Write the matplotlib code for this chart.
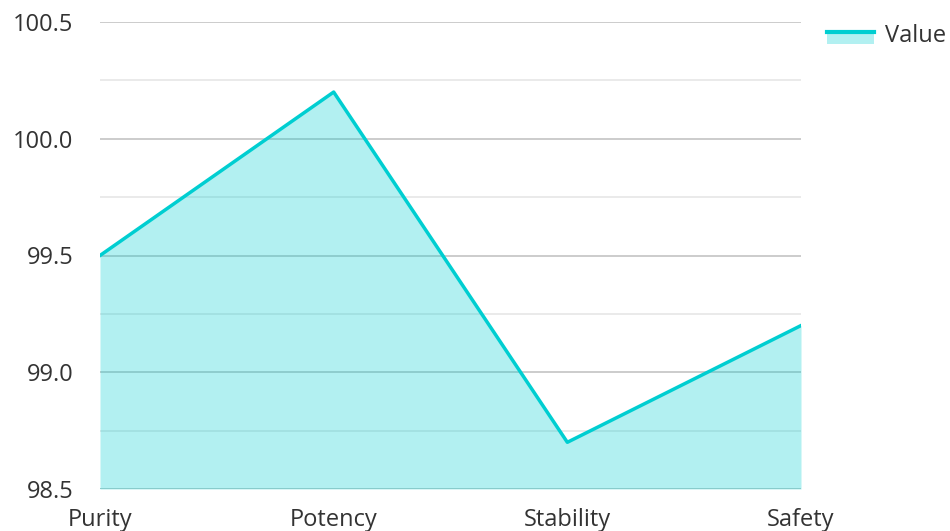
import matplotlib.pyplot as plt
from matplotlib.legend_handler import HandlerBase
from matplotlib.patches import Rectangle
from matplotlib.lines import Line2D

plt.rcParams['font.family'] = ['Open Sans', 'DejaVu Sans']

categories = ['Purity', 'Potency', 'Stability', 'Safety']
values = [99.5, 100.2, 98.7, 99.2]
yticks = [98.5, 99.0, 99.5, 100.0, 100.5]
minor_ticks = [98.75, 99.25, 99.75, 100.25]

line_color = '#00CED1'


class AreaHandler(HandlerBase):
    # filled box with the line along its top edge
    def create_artists(self, legend, orig, xd, yd, w, h, fontsize, trans):
        rect = Rectangle((xd, yd - 0.1 * h), w, 0.7 * h, facecolor=line_color,
                         alpha=0.3, edgecolor='none', transform=trans)
        ln = Line2D([xd, xd + w], [yd + 0.6 * h, yd + 0.6 * h], color=line_color,
                    linewidth=3, transform=trans)
        return [rect, ln]


fig = plt.figure(figsize=(9.5, 5.31), dpi=100)
ax = fig.add_axes([100 / 950, 1 - 489 / 531, 701 / 950, 467 / 531])

x = list(range(len(categories)))
ax.fill_between(x, values, 98.5, color=line_color, alpha=0.3, linewidth=0, zorder=2)
line, = ax.plot(x, values, color=line_color, linewidth=2.5, zorder=4)

for t in yticks:
    ax.axhline(t, color='#c4c4c4', linewidth=1.2, zorder=1)
for t in minor_ticks:
    ax.axhline(t, color='#e6e6e6', linewidth=1.2, zorder=1)
ax.axhline(98.5, color='#88cccc', linewidth=2, zorder=3)

ax.set_xlim(0, len(categories) - 1)
ax.set_ylim(98.5, 100.5)
ax.set_yticks(yticks)
ax.set_yticklabels([f'{t:.1f}' for t in yticks])
ax.set_xticks(x)
ax.set_xticklabels(categories)
ax.tick_params(axis='both', length=0, labelsize=17, colors='#333333')
ax.tick_params(axis='y', pad=19)
ax.tick_params(axis='x', pad=14)
for s in ax.spines.values():
    s.set_visible(False)

fig.legend([line], ['Value'], handler_map={line: AreaHandler()}, loc='upper left',
           bbox_to_anchor=(827 / 950, 1 - 24 / 531), frameon=False, fontsize=17,
           borderaxespad=0, borderpad=0, handlelength=2.0, handletextpad=0.45,
           labelcolor='#333333')

fig.savefig('out.png', dpi=100)
